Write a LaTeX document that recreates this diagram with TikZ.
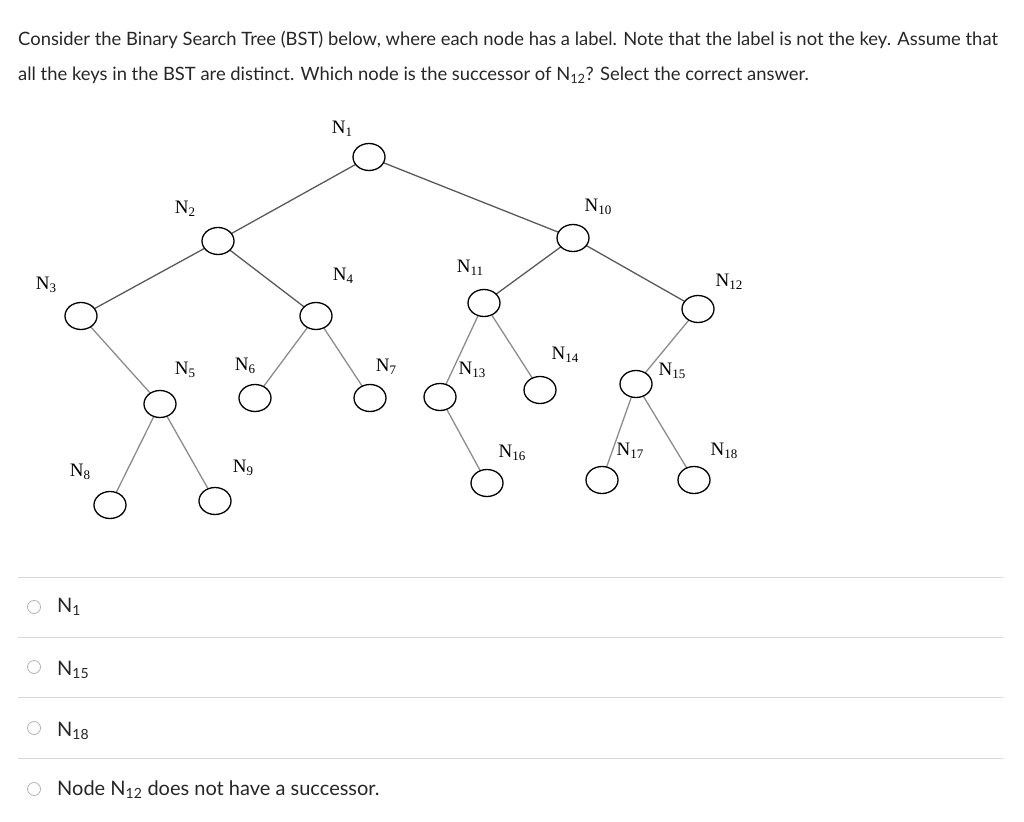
\documentclass[tikz,border=0pt]{standalone}
\usepackage{fontspec}
\setmainfont{Lato}
\newfontfamily\tnr{Liberation Serif}
\usetikzlibrary{shapes.geometric}
\newcommand{\NL}[1]{{\tnr N}\raisebox{-3pt}{\tnr\fontsize{13}{13}\selectfont #1}}
\begin{document}
\begin{tikzpicture}[x=1pt,y=-1pt,
 nd/.style={draw=black,line width=1.3pt,fill=white,ellipse,minimum width=32pt,minimum height=27pt,inner sep=0pt},
 lb/.style={font=\tnr\fontsize{19}{19}\selectfont,inner sep=0pt},
 ed/.style={draw=black!65,line width=1.3pt},
 ed2/.style={draw=black!45,line width=1.3pt},
 sep/.style={draw=gray!30,line width=0.8pt},
 radio/.style={draw=gray!60,circle,minimum size=13pt,inner sep=0pt,line width=0.8pt},
 opt/.style={anchor=west,font=\fontsize{20}{22}\selectfont,inner sep=0pt,text=black!85}]
\useasboundingbox (0,0) rectangle (1024,821);
\node[anchor=west,font=\fontsize{18.4}{20}\selectfont,inner sep=0pt,text=black!85] (q1) at (18,40) {Consider the Binary Search Tree (BST) below, where each node has a label. Note that the label is not the key. Assume that};
\node[anchor=west,font=\fontsize{18.4}{20}\selectfont,inner sep=0pt,text=black!85] (q2) at (18,75) {all the keys in the BST are distinct. Which node is the successor of N\textsubscript{12}? Select the correct answer.};
% edges first (behind)
\coordinate (c1) at (369,157); \coordinate (c2) at (218,241); \coordinate (c10) at (573,238);
\coordinate (c3) at (81,316); \coordinate (c4) at (316,316); \coordinate (c11) at (484,303);
\coordinate (c12) at (698,309); \coordinate (c5) at (160,404); \coordinate (c6) at (255,398);
\coordinate (c7) at (370,398); \coordinate (c13) at (440,397); \coordinate (c14) at (540,390);
\coordinate (c15) at (636,384); \coordinate (c8) at (110,505); \coordinate (c9) at (215,501);
\coordinate (c16) at (487,483); \coordinate (c17) at (602,480); \coordinate (c18) at (694,480);
\draw[ed] (c1) -- (c2); \draw[ed] (c1) -- (c10);
\draw[ed] (c2) -- (c3); \draw[ed] (c2) -- (c4);
\draw[ed] (c10) -- (c11); \draw[ed] (c10) -- (c12);
\draw[ed2] (c3) -- (c5); \draw[ed2] (c4) -- (c6); \draw[ed2] (c4) -- (c7);
\draw[ed2] (c11) -- (c13); \draw[ed2] (c11) -- (c14); \draw[ed2] (c12) -- (c15);
\draw[ed2] (c5) -- (c8); \draw[ed2] (c5) -- (c9);
\draw[ed2] (c13) -- (c16); \draw[ed2] (c15) -- (c17); \draw[ed2] (c15) -- (c18);
% nodes
\foreach \i in {1,2,3,4,5,6,7,8,9,10,11,12,13,14,15,16,17,18} {\node[nd] (n\i) at (c\i) {};}
% labels
\node[lb] (l1) at (342,129) {\NL{1}};
\node[lb] (l2) at (185,209) {\NL{2}};
\node[lb] (l10) at (598,207) {\NL{10}};
\node[lb] (l3) at (46,285) {\NL{3}};
\node[lb] (l4) at (343,276) {\NL{4}};
\node[lb] (l11) at (470,268) {\NL{11}};
\node[lb] (l12) at (729,282) {\NL{12}};
\node[lb] (l5) at (185,370) {\NL{5}};
\node[lb] (l6) at (245,366) {\NL{6}};
\node[lb] (l7) at (386,367) {\NL{7}};
\node[lb] (l13) at (472,370) {\NL{13}};
\node[lb] (l14) at (565,355) {\NL{14}};
\node[lb] (l15) at (672,371) {\NL{15}};
\node[lb] (l8) at (80,472) {\NL{8}};
\node[lb] (l9) at (243,468) {\NL{9}};
\node[lb] (l16) at (512,453) {\NL{16}};
\node[lb] (l17) at (630,451) {\NL{17}};
\node[lb] (l18) at (724,451) {\NL{18}};
% separators
\coordinate (s1a) at (18,577); \coordinate (s1b) at (1003,577);
\coordinate (s2a) at (18,637); \coordinate (s2b) at (1003,637);
\coordinate (s3a) at (18,697); \coordinate (s3b) at (1003,697);
\coordinate (s4a) at (18,758); \coordinate (s4b) at (1003,758);
\draw[sep] (s1a) -- (s1b); \draw[sep] (s2a) -- (s2b);
\draw[sep] (s3a) -- (s3b); \draw[sep] (s4a) -- (s4b);
% options
\node[radio] (r1) at (34,607) {}; \node[opt] (o1) at (57,607) {N\textsubscript{1}};
\node[radio] (r2) at (34,667) {}; \node[opt] (o2) at (57,670) {N\textsubscript{15}};
\node[radio] (r3) at (34,728) {}; \node[opt] (o3) at (57,731) {N\textsubscript{18}};
\node[radio] (r4) at (34,789) {}; \node[opt] (o4) at (57,790) {Node N\textsubscript{12} does not have a successor.};
\end{tikzpicture}
\end{document}
